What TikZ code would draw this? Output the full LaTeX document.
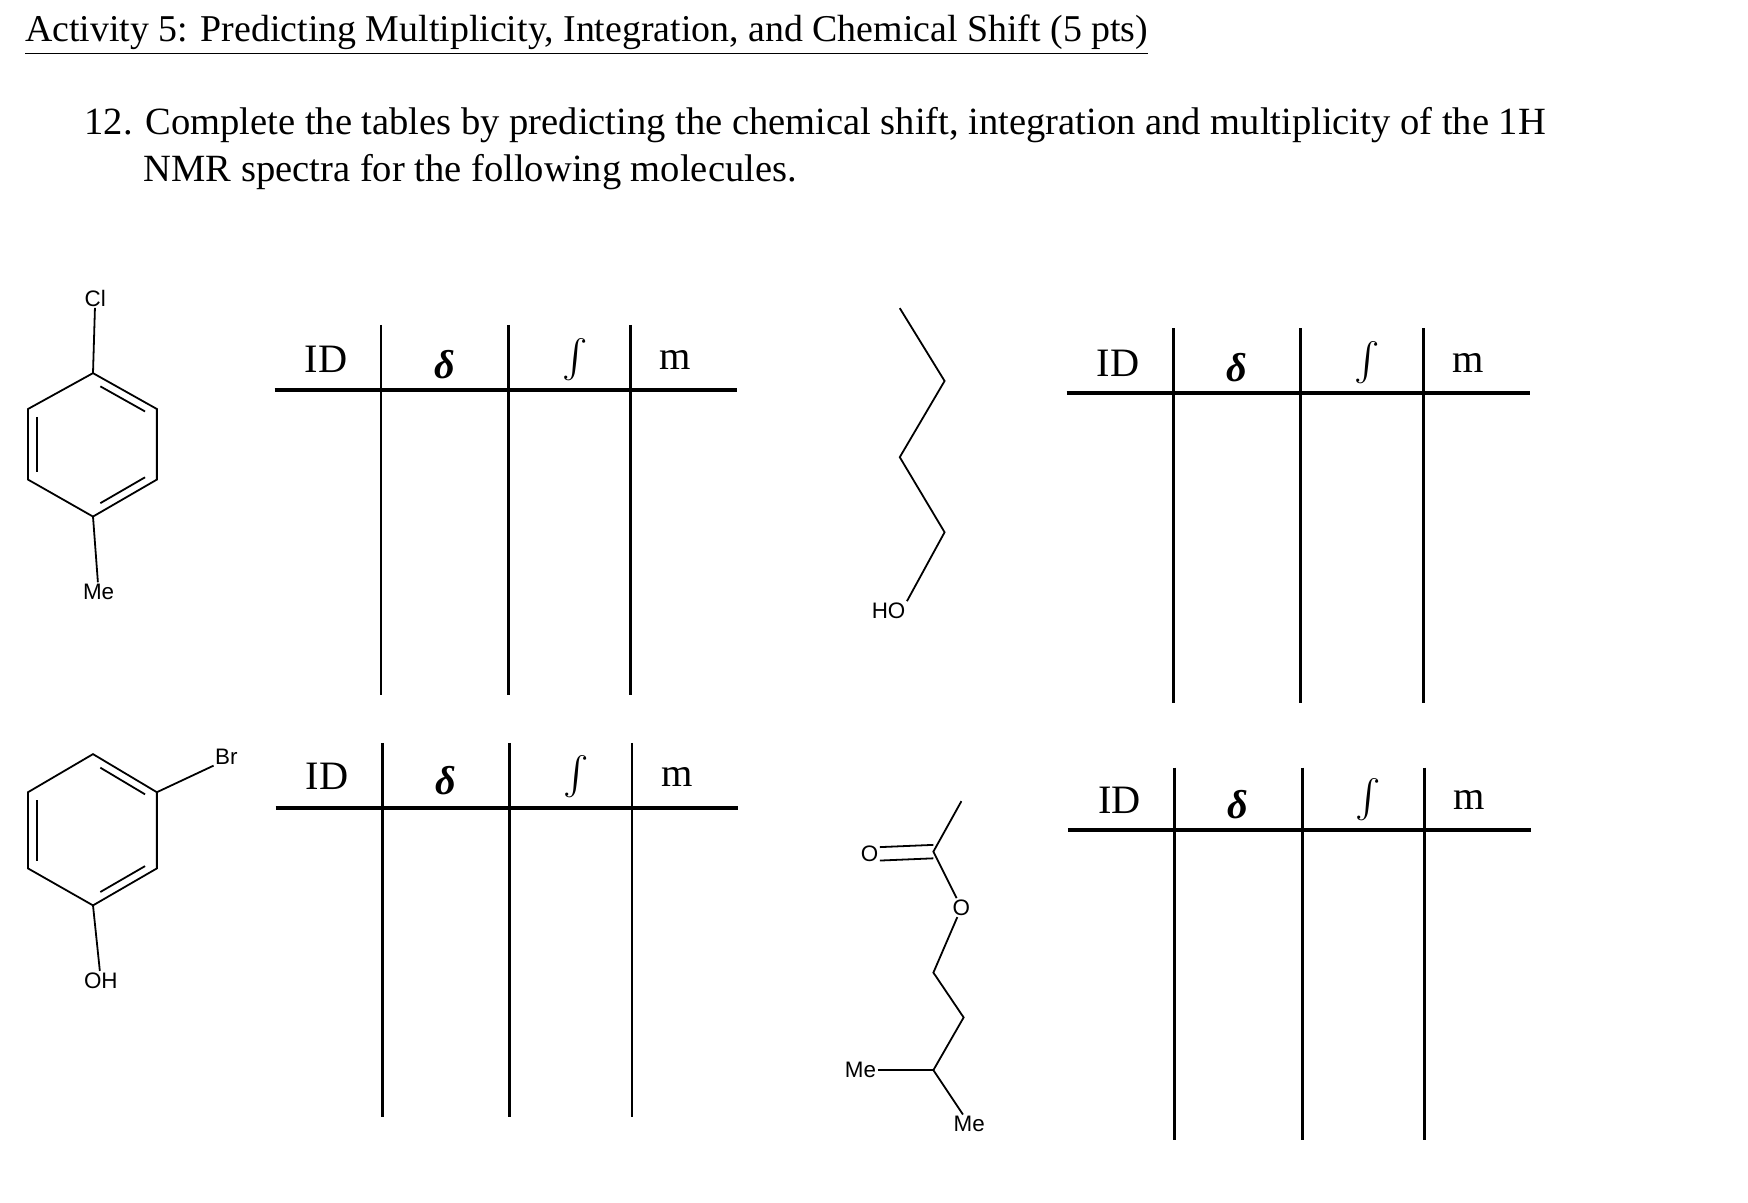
\documentclass[tikz,border=0pt]{standalone}
\usepackage{fontspec}
\setmainfont{Liberation Serif}
\newfontfamily\molfont{Liberation Sans}
\usetikzlibrary{calc}
\begin{document}
\begin{tikzpicture}[x=0.5pt,y=-0.5pt,
  bond/.style={line width=0.8pt},
  tline/.style={line width=1.3pt},
  hline/.style={line width=1.8pt},
  lab/.style={font=\molfont\fontsize{10}{12}\selectfont,inner sep=0.5pt},
  head/.style={font=\fontsize{18}{20}\selectfont,inner sep=0pt}]
\useasboundingbox (0,0) rectangle (1560,1073);
\node[anchor=west,inner sep=0pt,font=\fontsize{16.9}{19}\selectfont] (title) at (22,31) {\underline{Activity 5: Predicting Multiplicity, Integration, and Chemical Shift (5 pts)}};
\node[anchor=west,inner sep=0pt,font=\fontsize{17.2}{20}\selectfont] (q1) at (75,112) {12. Complete the tables by predicting the chemical shift, integration and multiplicity of the 1H};
\node[anchor=west,inner sep=0pt,font=\fontsize{17.2}{20}\selectfont] (q2) at (128,154) {NMR spectra for the following molecules.};

\newcommand{\nmrtable}[6]{%
 \begin{scope}[shift={(#1,0)}]
 \draw[hline] (0,#2) -- (413,#2);
 \draw[tline] (95,#3) -- (95,#4);
 \draw[tline] (209,#3) -- (209,#4);
 \draw[tline] (318,#3) -- (318,#4);
 \node[head] (#6id) at (46,#5) {ID};
 \node[head] (#6d) at (152,#5+4) {\textbf{\textit{δ}}};
 \node[head] (#6i) at (268,#5) {\scalebox{1.7}{$\int$}};
 \node[head] (#6m) at (358,#5) {m};
 \end{scope}}
\nmrtable{245}{348}{290}{620}{321}{ta}
\nmrtable{952}{351}{293}{627}{324}{tb}
\nmrtable{246}{721}{663}{997}{693}{tc}
\nmrtable{953}{741}{685}{1017}{714}{td}

% molecule 1
\coordinate (a1) at (83,333); \coordinate (a2) at (140,365); \coordinate (a3) at (140,428);
\coordinate (a4) at (83,461); \coordinate (a5) at (25,428); \coordinate (a6) at (25,365);
\draw[bond] (a1)--(a2)--(a3)--(a4)--(a5)--(a6)--cycle;
\draw[bond] ($(a1)!0.15!(a2)+(-2,7)$) -- ($(a1)!0.85!(a2)+(-2,7)$);
\draw[bond] (33,372) -- (33,421);
\draw[bond] ($(a3)!0.15!(a4)+(-2,-7)$) -- ($(a3)!0.85!(a4)+(-2,-7)$);
\node[lab] (cl) at (85,266) {Cl};
\node[lab] (me1) at (88,528) {Me};
\draw[bond] (cl) -- (a1);
\draw[bond] (a4) -- (me1);

% molecule 2
\coordinate (b1) at (83,673); \coordinate (b2) at (140,707); \coordinate (b3) at (140,775);
\coordinate (b4) at (83,808); \coordinate (b5) at (25,775); \coordinate (b6) at (25,707);
\draw[bond] (b1)--(b2)--(b3)--(b4)--(b5)--(b6)--cycle;
\draw[bond] ($(b1)!0.15!(b2)+(-2,7)$) -- ($(b1)!0.85!(b2)+(-2,7)$);
\draw[bond] (33,714) -- (33,768);
\draw[bond] ($(b3)!0.15!(b4)+(-2,-7)$) -- ($(b3)!0.85!(b4)+(-2,-7)$);
\node[lab] (br) at (202,675) {Br};
\node[lab] (oh) at (90,875) {OH};
\draw[bond] (b2) -- (br.south west);
\draw[bond] (b4) -- (oh);

% molecule 3
\coordinate (c1) at (803,275); \coordinate (c2) at (843,340); \coordinate (c3) at (803,408);
\coordinate (c4) at (843,475);
\node[lab] (ho) at (793,545) {HO};
\draw[bond] (c1)--(c2)--(c3)--(c4)--(ho.north east);

% molecule 4
\coordinate (d1) at (858,715); \coordinate (d2) at (833,760);
\node[lab] (o1) at (776,762) {O};
\node[lab] (o2) at (858,810) {O};
\coordinate (d3) at (833,868); \coordinate (d4) at (860,908); \coordinate (d5) at (833,955);
\node[lab] (me2) at (768,955) {Me};
\node[lab] (me3) at (865,1003) {Me};
\draw[bond] (d1) -- (d2) -- (o2);
\draw[bond] ([yshift=-3]o1.east) -- ([yshift=-3]d2);
\draw[bond] ([yshift=3]o1.east) -- ([yshift=3]d2);
\draw[bond] (o2) -- (d3) -- (d4) -- (d5) -- (me3);
\draw[bond] (me2) -- (d5);
\end{tikzpicture}
\end{document}
